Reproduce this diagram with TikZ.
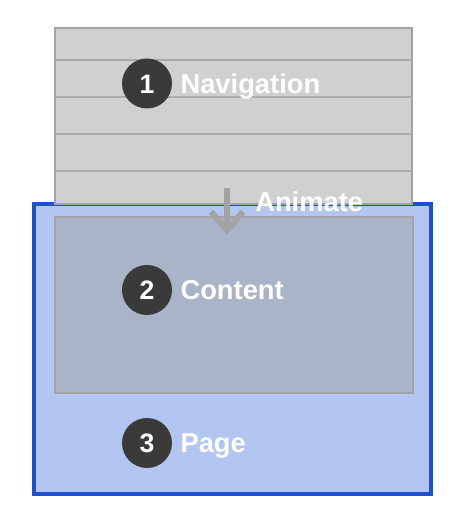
\documentclass[tikz,border=0pt]{standalone}
\usepackage{fontspec}
\setmainfont{Liberation Sans}
\usetikzlibrary{arrows.meta, positioning}
\definecolor{NavFill}{HTML}{D0D0D0}
\definecolor{NavLine}{HTML}{AAAAAA}
\definecolor{PageFill}{HTML}{B3C6F1}
\definecolor{PageEdge}{HTML}{1F4FD3}
\definecolor{ContentFill}{HTML}{A9B4C9}
\definecolor{BoxEdge}{HTML}{A3A3A3}
\definecolor{Badge}{HTML}{3A3A3A}

\begin{document}
\begin{tikzpicture}[x=0.75pt, y=-0.75pt,
  box/.style={rectangle, inner sep=0pt, line width=2.2pt},
  badge/.style={circle, fill=Badge, text=white, minimum size=37.5pt, inner sep=0pt,
    text height=14.3pt, text depth=0pt, font=\bfseries\fontsize{20}{20}\selectfont},
  lbl/.style={text=white, inner sep=0pt, text height=14.7pt, text depth=0pt,
    font=\bfseries\fontsize{20.5}{20.5}\selectfont}]
  \useasboundingbox[fill=white] (0,0) rectangle (474,530);

  % the three layers
  \node[box, draw=PageEdge, line width=2.6pt, fill=PageFill, minimum width=297.75pt, minimum height=217.5pt]
    (page) at (232.5,349) {};
  \node[box, draw=BoxEdge, fill=ContentFill, minimum width=268.5pt, minimum height=132pt]
    (content) at (234,305) {};
  \node[box, draw=BoxEdge, fill=NavFill, minimum width=267.75pt, minimum height=132pt]
    (nav) at (233.5,116) {};
  \foreach \y in {60, 97, 134, 171}
    \draw[NavLine, line width=1pt] (nav.west |- 0,\y) -- (nav.east |- 0,\y);

  % animation arrow
  \coordinate (animfrom) at (227,188);
  \coordinate (animto) at (227,235);
  \draw[BoxEdge, line width=4.5pt, -{Straight Barb[length=14pt, width=24pt]}] (animfrom) -- (animto);
  \node[lbl, anchor=west] (animlbl) at (255,202) {Animate};

  % numbered labels
  \node[badge] (b1) at (147,83.5) {1};
  \node[lbl, right=6pt of b1] (navlbl) {Navigation};
  \node[badge] (b2) at (147,290) {2};
  \node[lbl, right=6pt of b2] (contentlbl) {Content};
  \node[badge] (b3) at (147,443) {3};
  \node[lbl, right=6pt of b3] (pagelbl) {Page};
\end{tikzpicture}
\end{document}
